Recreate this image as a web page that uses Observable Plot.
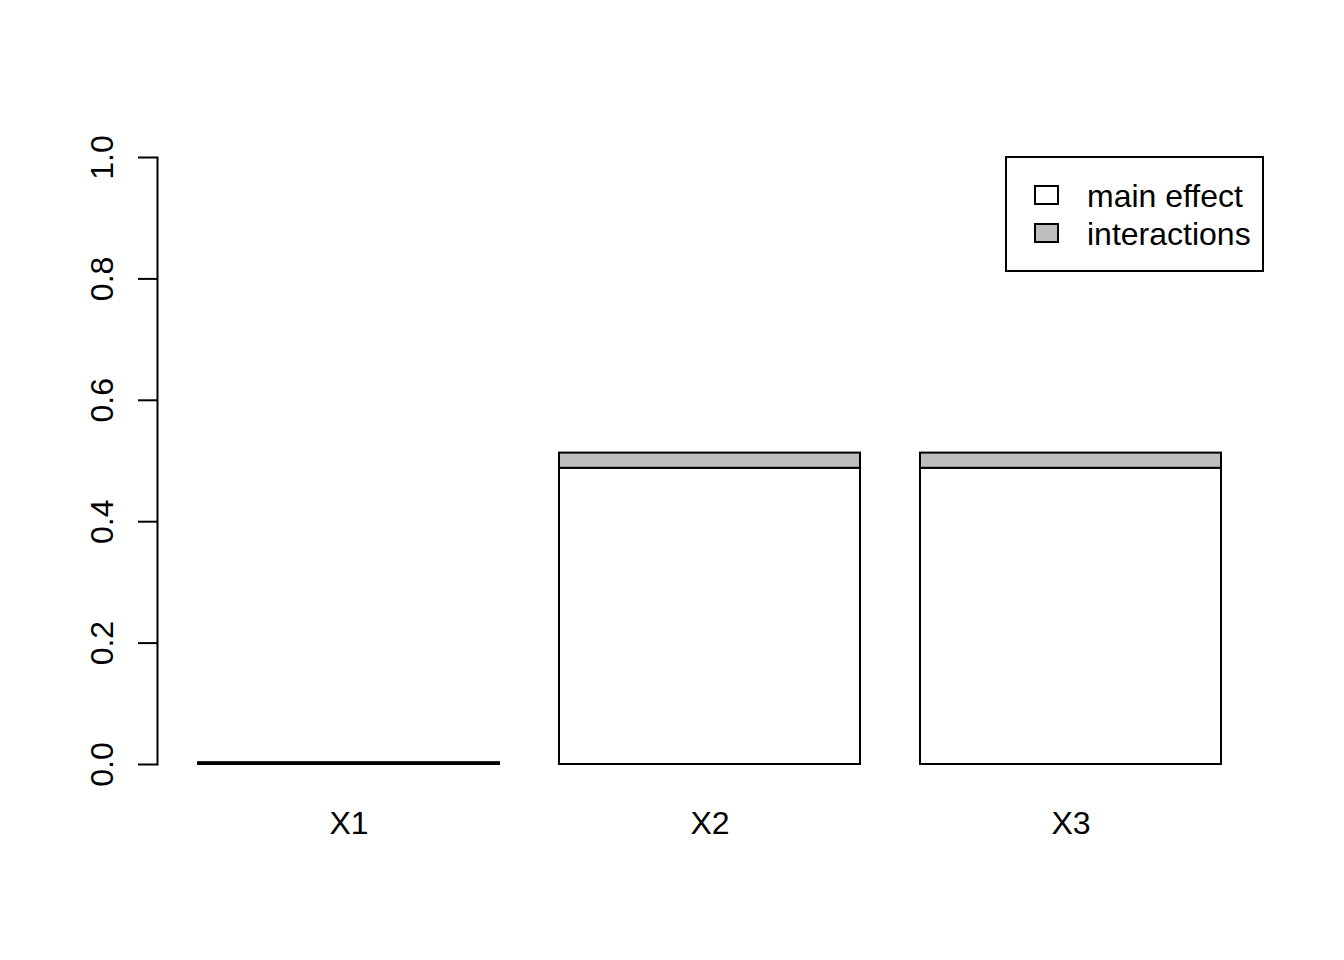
<!DOCTYPE html>
<html>
<head>
<meta charset="utf-8">
<script src="https://cdn.jsdelivr.net/npm/d3@7"></script>
<script src="https://cdn.jsdelivr.net/npm/@observablehq/plot@0.6"></script>
<style>
  html, body { margin: 0; padding: 0; background: #fff; }
  #chart { width: 1344px; height: 960px; }
</style>
</head>
<body>
<div id="chart"></div>
<script>
const variables = ["X1", "X2", "X3"];
const mainEffect = [0.002, 0.488, 0.488];
const interactions = [0.001, 0.025, 0.025];
const components = ["main effect", "interactions"];
const componentFills = ["white", "#BEBEBE"];
const yTicks = [0, 0.2, 0.4, 0.6, 0.8, 1.0];

const data = [];
variables.forEach((v, i) => {
  data.push({variable: v, component: components[0], value: mainEffect[i]});
  data.push({variable: v, component: components[1], value: interactions[i]});
});

const font = "'Liberation Sans', Arial, sans-serif";

const chart = Plot.plot({
  width: 1344,
  height: 960,
  marginLeft: 157,
  marginRight: 81,
  marginTop: 157,
  marginBottom: 196,
  style: {fontFamily: font, fontSize: "32px", background: "white", color: "black"},
  x: {domain: variables, paddingInner: 0.166, paddingOuter: 0.1136, axis: null},
  y: {domain: [0, 1], axis: null},
  color: {domain: components, range: componentFills},
  marks: [
    Plot.barY(data, {x: "variable", y: "value", fill: "component", stroke: "black", strokeWidth: 2}),
    Plot.frame({anchor: "left", strokeWidth: 2}),
    Plot.axisY({ticks: yTicks, tickSize: 19, strokeWidth: 2, tickFormat: () => "", label: null}),
    Plot.text(yTicks, {y: d => d, text: d => d.toFixed(1), frameAnchor: "left", textAnchor: "middle", rotate: -90, dx: -45, lineAnchor: "bottom", fontSize: 32, fill: "black"}),
    Plot.text(variables, {x: d => d, text: d => d, frameAnchor: "bottom", textAnchor: "middle", dy: 69, lineAnchor: "bottom", fontSize: 32, fill: "black"})
  ]
});

document.getElementById("chart").appendChild(chart);

// Legend (R-style topright box)
const svg = d3.select(chart);
const lg = svg.append("g").attr("font-family", font).attr("font-size", 32).attr("text-anchor", "start");
lg.append("rect").attr("x", 1006).attr("y", 157).attr("width", 257).attr("height", 114)
  .attr("fill", "white").attr("stroke", "black").attr("stroke-width", 2);
const legendY = [186, 224];
const baselines = [207, 245];
components.forEach((c, i) => {
  lg.append("rect").attr("x", 1035).attr("y", legendY[i]).attr("width", 23).attr("height", 18)
    .attr("fill", componentFills[i]).attr("stroke", "black").attr("stroke-width", 2);
  lg.append("text").attr("x", 1087).attr("y", baselines[i]).attr("fill", "black")
    .attr("text-anchor", "start").text(c);
});
</script>
</body>
</html>
